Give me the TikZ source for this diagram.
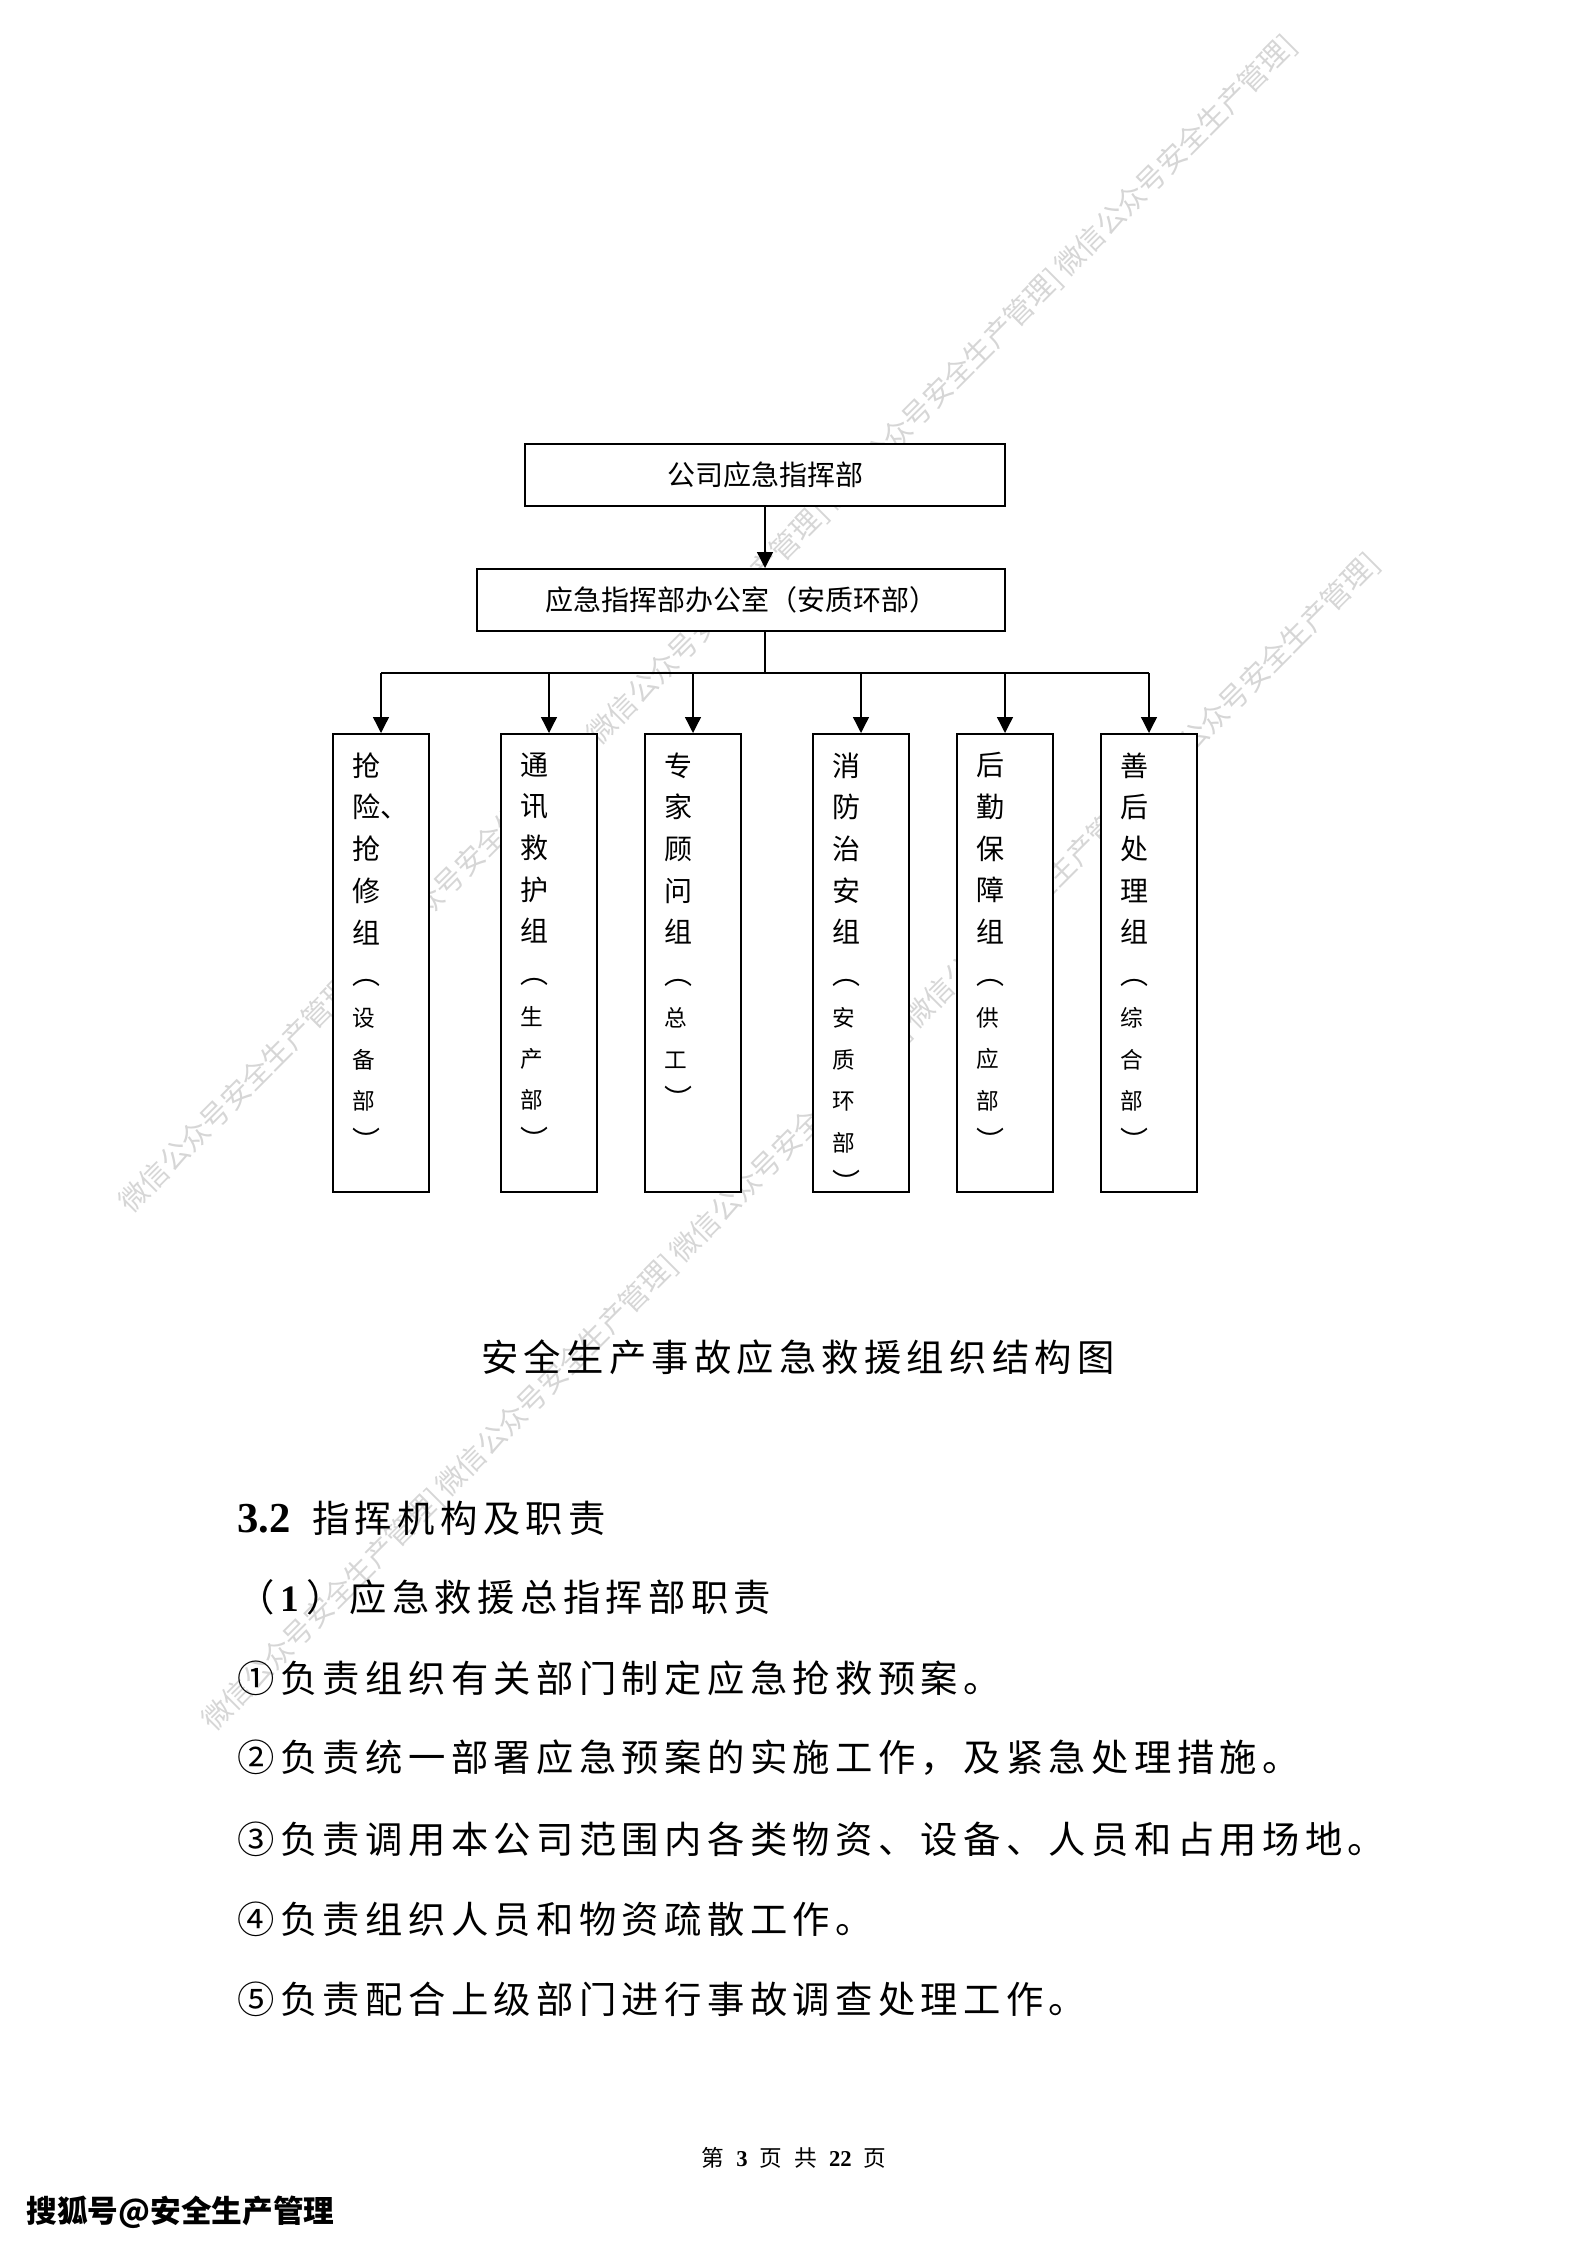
\documentclass[tikz,border=0pt]{standalone}
\usepackage{fontspec}
\setmainfont{Noto Sans CJK SC}
\newfontfamily\tms{Liberation Serif}
\usepackage{tikz}
\usetikzlibrary{arrows.meta,calc}

\newcommand\dep[1]{{\fontsize{8.5}{15.64}\selectfont#1}}

\tikzset{
  box/.style={draw,line width=0.75pt,fill=white,inner sep=0pt,font=\fontsize{10.5}{12}\selectfont},
  grp/.style={box,minimum width=36pt,minimum height=171.75pt},
  col/.style={align=left,inner sep=0pt,anchor=north west,font=\fontsize{10.5}{15.64}\selectfont},
  arr/.style={line width=0.5pt,-{Triangle[length=6pt,width=6pt]}},
  wm/.style={rotate=45,anchor=west,inner sep=0pt,text=black!16,font=\fontsize{10.8}{12}\selectfont},
  body/.style={anchor=west,inner sep=0pt,font=\fontsize{14}{16}\selectfont\addfontfeature{LetterSpace=14.4}},
}

\begin{document}
\begin{tikzpicture}[x=0.375pt,y=-0.375pt]
  \useasboundingbox (0,0) rectangle (1587,2245);
  % watermark
  \foreach \s in {124,358,592,826,1060}
    \node[wm] (wa\s) at (\s,1332-\s) {微信公众号安全生产管理]};
  \foreach \s in {207,441,675,909,1143}
    \node[wm] (wb\s) at (\s,1933-\s) {微信公众号安全生产管理]};

  \node[box,minimum width=180pt,minimum height=23.25pt] (hq) at (765,475) {公司应急指挥部};
  \node[box,minimum width=198pt,minimum height=23.25pt] (office) at (741,600) {应急指挥部办公室（安质环部）};
  \foreach \n/\x in {1/381,2/549,3/693,4/861,5/1005,6/1149}
    \node[grp] (g\n) at (\x,963) {};

  \node[col] (t1) at ($(g1.north west)+(20,19)$) {抢\\险、\\抢\\修\\组\\︵\\\dep{设}\\\dep{备}\\\dep{部}\\︶};
  \node[col] (t2) at ($(g2.north west)+(20,19)$) {通\\讯\\救\\护\\组\\︵\\\dep{生}\\\dep{产}\\\dep{部}\\︶};
  \node[col] (t3) at ($(g3.north west)+(20,19)$) {专\\家\\顾\\问\\组\\︵\\\dep{总}\\\dep{工}\\︶};
  \node[col] (t4) at ($(g4.north west)+(20,19)$) {消\\防\\治\\安\\组\\︵\\\dep{安}\\\dep{质}\\\dep{环}\\\dep{部}\\︶};
  \node[col] (t5) at ($(g5.north west)+(20,19)$) {后\\勤\\保\\障\\组\\︵\\\dep{供}\\\dep{应}\\\dep{部}\\︶};
  \node[col] (t6) at ($(g6.north west)+(20,19)$) {善\\后\\处\\理\\组\\︵\\\dep{综}\\\dep{合}\\\dep{部}\\︶};

  % connectors
  \draw[arr] (hq.south) -- (hq.south |- office.north);
  \coordinate (bus) at (765,673);
  \draw[line width=0.5pt] (hq.south |- office.south) -- (bus);
  \draw[line width=0.5pt] (g1.north |- bus) -- (g6.north |- bus);
  \foreach \n in {1,...,6}
    \draw[arr] (g\n.north |- bus) -- (g\n.north);

  \node[font=\fontsize{14}{16}\selectfont\addfontfeature{LetterSpace=14}] (title) at (798,1357) {安全生产事故应急救援组织结构图};

  \node[body] (h32) at (237,1518) {{\tms\bfseries\fontsize{16}{18}\selectfont 3.2}\hspace{8pt}指挥机构及职责};
  \node[body] (s1) at (237,1597) {（\hspace{2pt}{\tms\bfseries 1}\hspace{3pt}）应急救援总指挥部职责};
  \node[body] (i1) at (237,1678) {①负责组织有关部门制定应急抢救预案。};
  \node[body] (i2) at (237,1758) {②负责统一部署应急预案的实施工作，及紧急处理措施。};
  \node[body] (i3) at (237,1839) {③负责调用本公司范围内各类物资、设备、人员和占用场地。};
  \node[body] (i4) at (237,1919) {④负责组织人员和物资疏散工作。};
  \node[body] (i5) at (237,1999) {⑤负责配合上级部门进行事故调查处理工作。};

  \node[font=\fontsize{8.5}{10}\selectfont] (pg) at (794,2158) {第\hspace{4.5pt}{\tms\bfseries 3}\hspace{4.5pt}页\hspace{4.5pt}共\hspace{4.5pt}{\tms\bfseries 22}\hspace{4.5pt}页};
  \node[anchor=west,inner sep=0pt,font=\bfseries\fontsize{11.5}{14}\selectfont] (sohu) at (26,2212) {搜狐号@安全生产管理};
\end{tikzpicture}
\end{document}
